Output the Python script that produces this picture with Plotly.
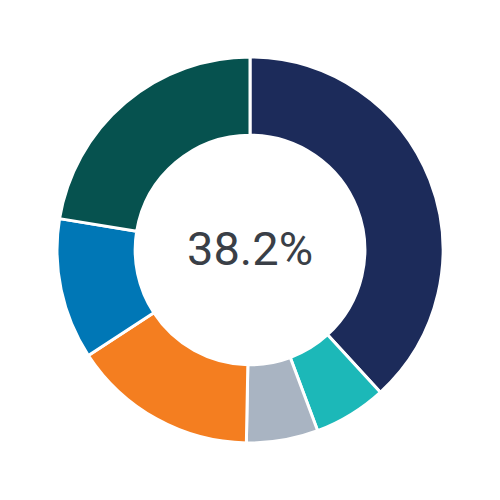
import plotly.graph_objects as go

labels = ["A", "B", "C", "D", "E", "F"]
values = [38.2, 6.1, 6.0, 15.5, 11.8, 22.4]
colors = ["#1c2b5a", "#1cb8b8", "#a9b4c2", "#f47e20", "#0077b6", "#06524f"]
center_text = "38.2%"

fig = go.Figure(go.Pie(
    labels=labels,
    values=values,
    hole=0.595,
    sort=False,
    direction="clockwise",
    rotation=0,
    marker=dict(colors=colors, line=dict(color="white", width=3)),
    textinfo="none",
    hoverinfo="none",
    showlegend=False,
))
fig.update_layout(
    width=500, height=500,
    margin=dict(l=49, r=65, t=49, b=65),
    paper_bgcolor="white",
    plot_bgcolor="white",
    annotations=[dict(text=center_text, x=0.5, y=0.5, xref="paper", yref="paper",
                      yshift=2,
                      showarrow=False, font=dict(family="Roboto", size=47, color="#3a3f47"))],
)
fig.write_html("out.html")
